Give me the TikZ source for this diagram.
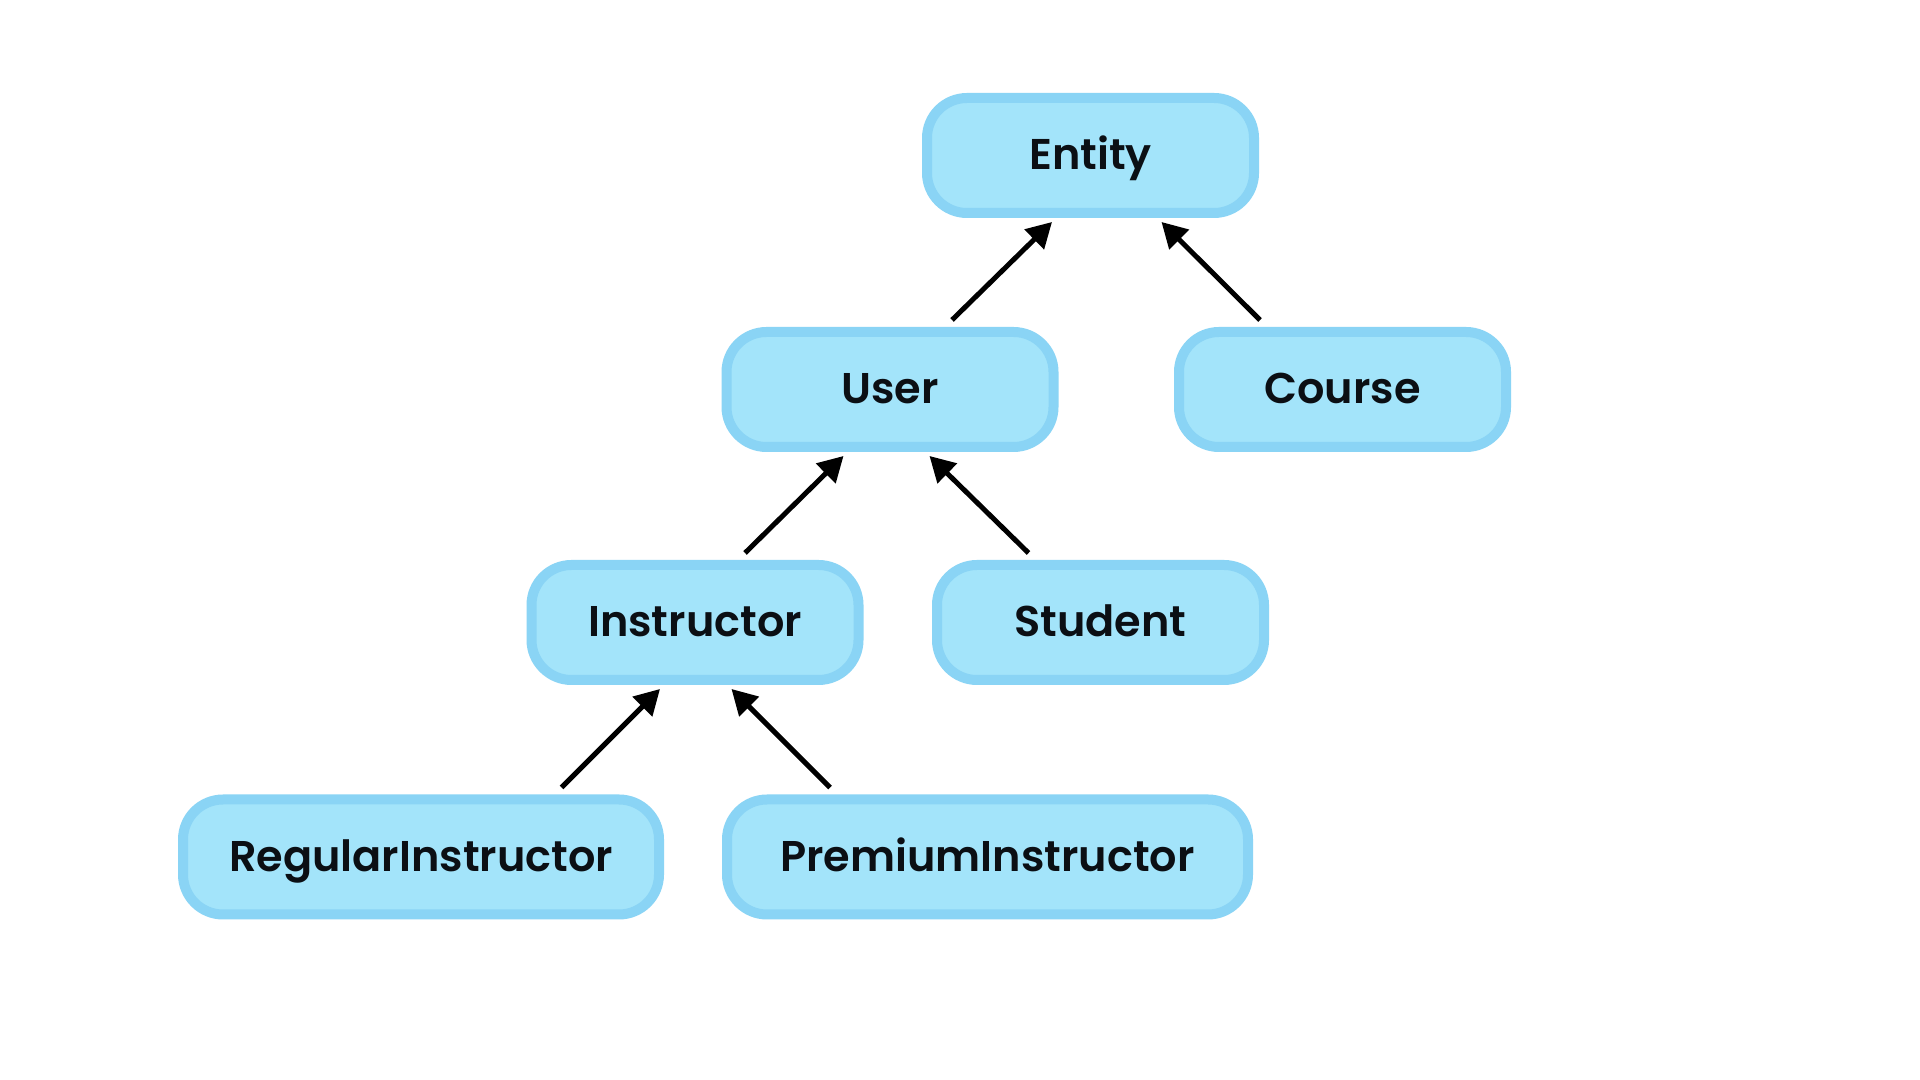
\documentclass[tikz,border=0pt]{standalone}
\usepackage{fontspec}
\setmainfont{Poppins}[BoldFont={Poppins SemiBold}]
\usetikzlibrary{arrows.meta}
\definecolor{boxfill}{HTML}{A3E4FA}
\definecolor{boxline}{HTML}{8AD4F5}
\definecolor{ink}{HTML}{0B0F14}
\begin{document}
\begin{tikzpicture}[x=0.5pt,y=0.5pt,
  cls/.style={draw=boxline, fill=boxfill, line width=5pt, rounded corners=20pt,
    minimum height=57.5pt, minimum width=163.5pt, text=ink, inner sep=0pt,
    text height=14.5pt, text depth=0pt,
    font=\bfseries\fontsize{21.5}{25}\selectfont},
  inh/.style={-{Triangle[length=12.5pt,width=13.5pt]}, line width=2.5pt, black}]
\useasboundingbox[fill=white] (0,0) rectangle (1920,1080);
\node[cls] (entity) at (1090.5,924.5) {Entity};
\node[cls] (user) at (890,690.5) {User};
\node[cls] (course) at (1342.5,690.5) {Course};
\node[cls] (instructor) at (695,457.5) {Instructor};
\node[cls] (student) at (1100.5,457.5) {Student};
\node[cls, minimum width=238pt] (regular) at (421,223) {RegularInstructor};
\node[cls, minimum width=260.5pt] (premium) at (987.5,223) {PremiumInstructor};
\draw[inh] ([shift={(62,7)}]user.north) -- ([shift={(-38.5,-4)}]entity.south);
\draw[inh] ([shift={(-82.5,7)}]course.north) -- ([shift={(71,-4)}]entity.south);
\draw[inh] ([shift={(50,7)}]instructor.north) -- ([shift={(-46.5,-4)}]user.south);
\draw[inh] ([shift={(-72,7)}]student.north) -- ([shift={(39.5,-4)}]user.south);
\draw[inh] ([shift={(140.5,7)}]regular.north) -- ([shift={(-35,-4)}]instructor.south);
\draw[inh] ([shift={(-157.5,7)}]premium.north) -- ([shift={(36.5,-4)}]instructor.south);
\end{tikzpicture}
\end{document}
